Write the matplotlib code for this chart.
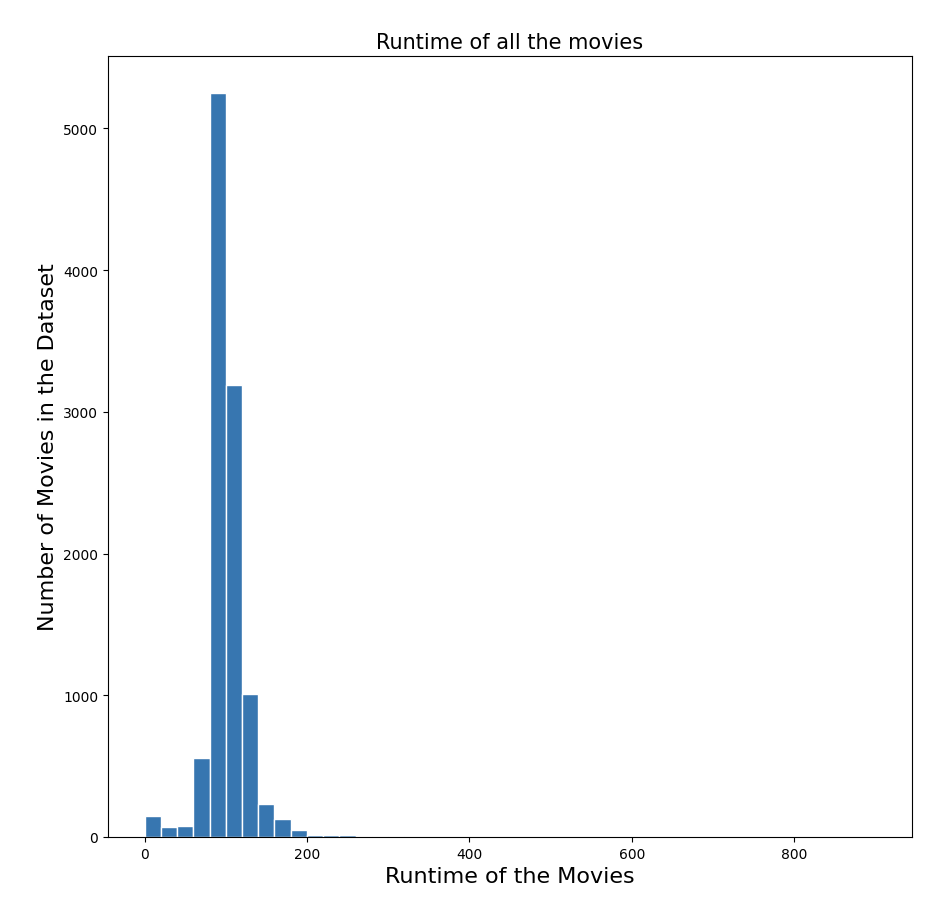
import numpy as np
import matplotlib
matplotlib.use("Agg")
import matplotlib.pyplot as plt

bin_width = 20
bin_starts = list(range(0, 900, bin_width))
counts = [150, 70, 80, 560, 5250, 3190, 1010, 230, 130, 50,
          15, 12, 12, 10, 10, 5] + [0] * 29
counts[14] = 10
title = "Runtime of all the movies"
xlabel = "Runtime of the Movies"
ylabel = "Number of Movies in the Dataset"

fig = plt.figure(figsize=(9.34, 9.12), dpi=100)
ax = fig.add_axes([108/934, 1-838/912, (912-108)/934, (838-57)/912])
ax.bar(bin_starts, counts, width=bin_width, align="edge",
       color="#3776b0", edgecolor="white", linewidth=1)
ax.set_xlim(-45, 945)
ax.set_ylim(0, 5510)
ax.set_title(title, fontsize=15)
ax.set_xlabel(xlabel, fontsize=16)
ax.set_ylabel(ylabel, fontsize=16)
ax.tick_params(labelsize=10)
fig.savefig("out.png", dpi=100)
